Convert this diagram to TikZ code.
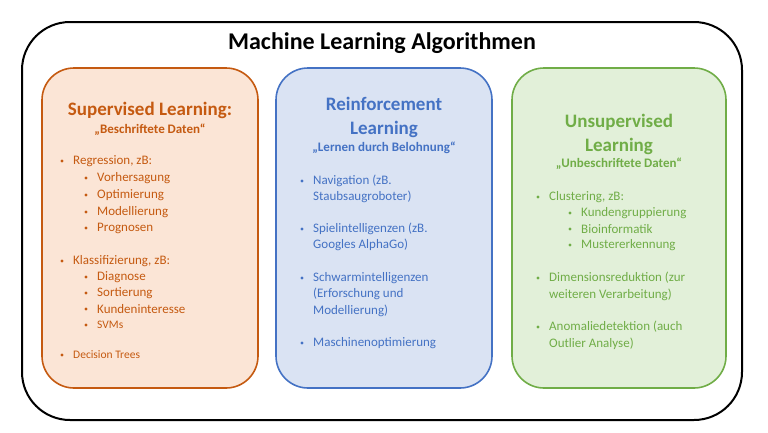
\documentclass[tikz,border=0pt]{standalone}
\usepackage{fontspec}
\setmainfont{Carlito}
\usepackage{xcolor}
\usetikzlibrary{calc}
\definecolor{supcol}{HTML}{C55A11}
\definecolor{supfill}{HTML}{FBE5D6}
\definecolor{reicol}{HTML}{4472C4}
\definecolor{reifill}{HTML}{DAE3F3}
\definecolor{unscol}{HTML}{70AD47}
\definecolor{unsfill}{HTML}{E2F0D9}
\tikzset{txt/.style={anchor=west, font=\fontsize{13}{15}\selectfont, inner sep=0}}
\newcommand{\itm}[4]{% color, x, y, text
  \fill[#1] (#2,#3) circle (1.7);
  \node[txt, text=#1] at ($(#2,#3)+(11,0)$) {#4};}

\begin{document}
\begin{tikzpicture}[x=1pt,y=-1pt]
    \useasboundingbox (0,0) rectangle (768,432);
    % Rahmen
    \draw[line width=2pt, rounded corners=48] (22,22) rectangle (742,420);
    \node[font=\fontsize{24}{28}\selectfont\bfseries] (title) at (382,43) {Machine Learning Algorithmen};
    % Boxen
    \draw[supcol, fill=supfill, line width=1.6pt, rounded corners=32] (42,68) rectangle (258,388);
    \draw[reicol, fill=reifill, line width=1.6pt, rounded corners=32] (276,68) rectangle (492,388);
    \draw[unscol, fill=unsfill, line width=1.6pt, rounded corners=32] (512,68) rectangle (726,388);
    % Supervised
    \node[text=supcol, font=\fontsize{19}{23}\selectfont\bfseries] (sup) at (150,110) {Supervised Learning:};
    \node[text=supcol, font=\fontsize{13}{15}\selectfont\bfseries] (supsub) at (150,130) {„Beschriftete Daten“};
    \itm{supcol}{62}{161}{Regression, zB:}
    \itm{supcol}{86}{178}{Vorhersagung}
    \itm{supcol}{86}{195}{Optimierung}
    \itm{supcol}{86}{212}{Modellierung}
    \itm{supcol}{86}{228}{Prognosen}
    \itm{supcol}{62}{261}{Klassifizierung, zB:}
    \itm{supcol}{86}{277}{Diagnose}
    \itm{supcol}{86}{293}{Sortierung}
    \itm{supcol}{86}{309}{Kundeninteresse}
    \itm{supcol}{86}{325}{\fontsize{11.5}{13}\selectfont SVMs}
    \itm{supcol}{62}{355}{\fontsize{11.5}{13}\selectfont Decision Trees}
    % Reinforcement
    \node[text=reicol, font=\fontsize{19}{23}\selectfont\bfseries, align=center] (rei) at (384,117) {Reinforcement\\[1pt]Learning};
    \node[text=reicol, font=\fontsize{13}{15}\selectfont\bfseries] (reisub) at (384,148) {„Lernen durch Belohnung“};
    \itm{reicol}{302}{181}{Navigation (zB.}
    \node[txt, text=reicol] at (313,197) {Staubsaugroboter)};
    \itm{reicol}{302}{229}{Spielintelligenzen (zB.}
    \node[txt, text=reicol] at (313,245) {Googles AlphaGo)};
    \itm{reicol}{302}{278}{Schwarmintelligenzen}
    \node[txt, text=reicol] at (313,294) {(Erforschung und};
    \node[txt, text=reicol] at (313,311) {Modellierung)};
    \itm{reicol}{302}{343}{Maschinenoptimierung}
    % Unsupervised
    \node[text=unscol, font=\fontsize{19}{23}\selectfont\bfseries, align=center] (uns) at (619,134) {Unsupervised\\[1pt]Learning};
    \node[text=unscol, font=\fontsize{13}{15}\selectfont\bfseries] (unssub) at (619,164) {„Unbeschriftete Daten“};
    \itm{unscol}{538}{197}{Clustering, zB:}
    \itm{unscol}{570}{213}{Kundengruppierung}
    \itm{unscol}{570}{229}{Bioinformatik}
    \itm{unscol}{570}{245}{Mustererkennung}
    \itm{unscol}{538}{278}{Dimensionsreduktion (zur}
    \node[txt, text=unscol] at (549,295) {weiteren Verarbeitung)};
    \itm{unscol}{538}{327}{Anomaliedetektion (auch}
    \node[txt, text=unscol] at (549,344) {Outlier Analyse)};
\end{tikzpicture}
\end{document}
